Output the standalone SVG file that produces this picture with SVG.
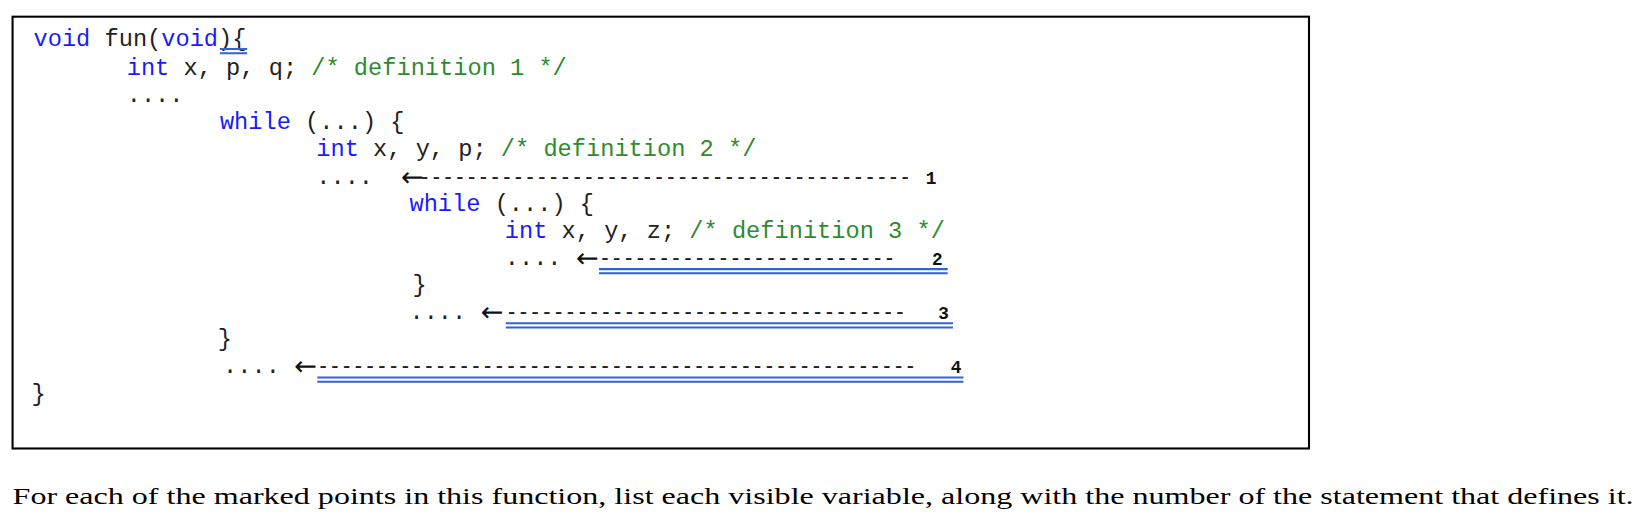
<svg xmlns="http://www.w3.org/2000/svg" width="1642" height="532" viewBox="0 0 1642 532">
<style>
.c{font-family:"Liberation Mono","Courier New",monospace;font-size:22.6px;fill:#222;white-space:pre}
.k{fill:#1a1aff}
.g{fill:#2e8b2e}
.a{font-family:"DejaVu Sans",sans-serif;font-size:26px;fill:#111}
.n{font-family:"Liberation Mono",monospace;font-weight:bold;font-size:17px;fill:#111}
.u{stroke:#2f63d6;stroke-width:2;fill:none}
.q{font-family:"Liberation Serif","Times New Roman",serif;font-size:22px;fill:#000}
</style>
<rect width="1642" height="532" fill="#fff"/>
<g transform="scale(1.0472,1.043)">
<g id="box"><rect x="12" y="16" width="1238" height="414" fill="#fff" stroke="#000" stroke-width="2"/></g>
<g id="code">
<text class="c" x="32" y="44" xml:space="preserve"><tspan class="k">void</tspan> fun(<tspan class="k">void</tspan>){</text>
<text class="c" x="121" y="72" xml:space="preserve"><tspan class="k">int</tspan> x, p, q; <tspan class="g">/* definition 1 */</tspan></text>
<text class="c" x="121" y="98">....</text>
<text class="c" x="210" y="124" xml:space="preserve"><tspan class="k">while</tspan> (...) {</text>
<text class="c" x="302" y="150" xml:space="preserve"><tspan class="k">int</tspan> x, y, p; <tspan class="g">/* definition 2 */</tspan></text>
<text class="c" x="302" y="176">....</text>
<text class="c" x="391" y="202" xml:space="preserve"><tspan class="k">while</tspan> (...) {</text>
<text class="c" x="482" y="228" xml:space="preserve"><tspan class="k">int</tspan> x, y, z; <tspan class="g">/* definition 3 */</tspan></text>
<text class="c" x="482" y="254">....</text>
<text class="c" x="394" y="280">}</text>
<text class="c" x="391" y="306">....</text>
<text class="c" x="208" y="332">}</text>
<text class="c" x="213" y="358">....</text>
<text class="c" x="30" y="384">}</text>
</g>
<g id="connectors">
<path class="u" d="M210 47H236M210 51H236"/>
<text class="a" x="383" y="178">←</text><text class="c" x="400" y="176" textLength="470" lengthAdjust="spacingAndGlyphs">------------------------------------------</text><text class="n" x="884" y="176">1</text>
<text class="a" x="550" y="256">←</text><text class="c" x="572" y="254" textLength="283" lengthAdjust="spacingAndGlyphs">-------------------------</text><text class="n" x="890" y="254">2</text>
<path class="u" d="M572 258H905M572 262H905"/>
<text class="a" x="459" y="308">←</text><text class="c" x="483" y="306" textLength="382" lengthAdjust="spacingAndGlyphs">----------------------------------</text><text class="n" x="896" y="306">3</text>
<path class="u" d="M483 310H910M483 314H910"/>
<text class="a" x="281" y="360">←</text><text class="c" x="303" y="358" textLength="572" lengthAdjust="spacingAndGlyphs">---------------------------------------------------</text><text class="n" x="908" y="358">4</text>
<path class="u" d="M303 362H920M303 366H920"/>
</g>
<text class="q" x="12" y="483" textLength="1548" lengthAdjust="spacingAndGlyphs">For each of the marked points in this function, list each visible variable, along with the number of the statement that defines it.</text>
</g>
</svg>
